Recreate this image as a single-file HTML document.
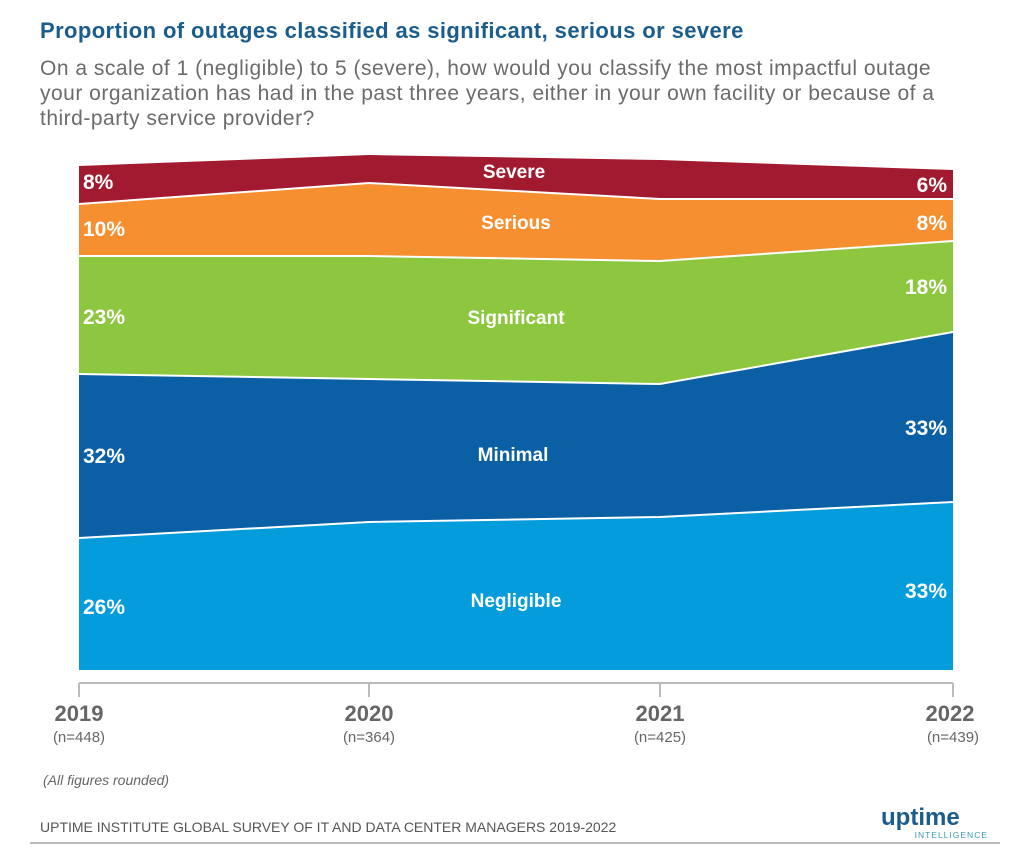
<!DOCTYPE html>
<html><head><meta charset="utf-8"><style>
body{margin:0;background:#fff;width:1024px;height:866px;overflow:hidden;font-family:"Liberation Sans",sans-serif;}
.t{position:absolute;left:40px;top:18px;color:#1a5d8c;font-weight:bold;font-size:22px;letter-spacing:0.4px;white-space:nowrap}
.s{position:absolute;left:40px;top:56px;color:#6b6b6b;font-size:21px;letter-spacing:0.5px;line-height:25px;white-space:nowrap}
</style></head><body>
<div class="t">Proportion of outages classified as significant, serious or severe</div>
<div class="s">On a scale of 1 (negligible) to 5 (severe), how would you classify the most impactful outage<br>your organization has had in the past three years, either in your own facility or because of a<br>third-party service provider?</div>
<svg width="1024" height="866" style="position:absolute;left:0;top:0" font-family="Liberation Sans, sans-serif">
<polygon points="79,166 369,155 660,160 953,170 953,199 660,199 369,183 79,204" fill="#a21a30"/>
<polygon points="79,204 369,183 660,199 953,199 953,241 660,261 369,256 79,256" fill="#f68f2f"/>
<polygon points="79,256 369,256 660,261 953,241 953,332 660,384 369,379 79,374" fill="#8dc63f"/>
<polygon points="79,374 369,379 660,384 953,332 953,502 660,517 369,522 79,538" fill="#0b5fa5"/>
<polygon points="79,538 369,522 660,517 953,502 953,670 79,670" fill="#059cdb"/>
<g fill="none" stroke="#fff" stroke-width="2">
<polyline points="79,204 369,183 660,199 953,199"/>
<polyline points="79,256 369,256 660,261 953,241"/>
<polyline points="79,374 369,379 660,384 953,332"/>
<polyline points="79,538 369,522 660,517 953,502"/>
</g>
<g fill="#fff" font-weight="bold" font-size="21">
<text x="83" y="189">8%</text><text x="83" y="236">10%</text><text x="83" y="324">23%</text><text x="83" y="463">32%</text><text x="83" y="614">26%</text>
<text x="947" y="192" text-anchor="end">6%</text><text x="947" y="230" text-anchor="end">8%</text><text x="947" y="294" text-anchor="end">18%</text><text x="947" y="435" text-anchor="end">33%</text><text x="947" y="598" text-anchor="end">33%</text>
</g>
<g fill="#fff" font-weight="bold" font-size="19" text-anchor="middle">
<text x="514" y="178">Severe</text><text x="516" y="229">Serious</text><text x="516" y="324">Significant</text><text x="513" y="461">Minimal</text><text x="516" y="607">Negligible</text>
</g>
<g stroke="#bbb" stroke-width="2" fill="none">
<line x1="79" y1="683" x2="953" y2="683"/>
<line x1="79" y1="683" x2="79" y2="697"/><line x1="369" y1="683" x2="369" y2="697"/><line x1="660" y1="683" x2="660" y2="697"/><line x1="953" y1="683" x2="953" y2="697"/>
</g>
<g fill="#666" text-anchor="middle">
<g font-weight="bold" font-size="22"><text x="79" y="721">2019</text><text x="369" y="721">2020</text><text x="660" y="721">2021</text><text x="950" y="721">2022</text></g>
<g font-size="15"><text x="79" y="742">(n=448)</text><text x="369" y="742">(n=364)</text><text x="660" y="742">(n=425)</text><text x="953" y="742">(n=439)</text></g>
</g>
<text x="43" y="785" font-size="14" font-style="italic" fill="#666">(All figures rounded)</text>
<text x="40" y="832" font-size="14" fill="#555">UPTIME INSTITUTE GLOBAL SURVEY OF IT AND DATA CENTER MANAGERS 2019-2022</text>
<text x="881" y="825" font-size="24" font-weight="bold" fill="#1a5d8c">uptime</text>
<text x="988" y="838" font-size="8.5" fill="#3a9bb0" text-anchor="end" letter-spacing="1">INTELLIGENCE</text>
<line x1="30" y1="843" x2="1000" y2="843" stroke="#bbb" stroke-width="2"/>
</svg>
</body></html>
